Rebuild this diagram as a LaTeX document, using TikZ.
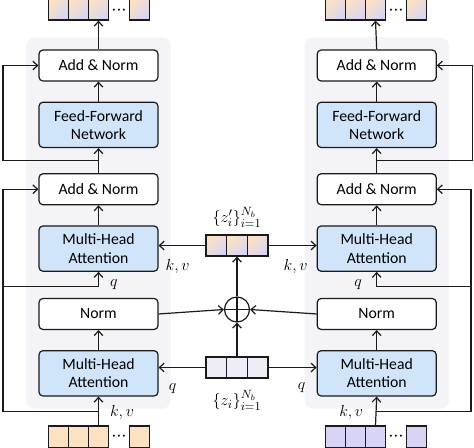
\documentclass[tikz,border=0pt]{standalone}
\usepackage{fontspec}
\setmainfont{Carlito}
\definecolor{panelGray}{HTML}{F3F3F8}
\definecolor{attnBlue}{HTML}{D0E5FA}
\definecolor{tokPeach}{HTML}{FCE2C3}
\definecolor{tokLav}{HTML}{D8D4F5}
\definecolor{tokGray}{HTML}{EDEDF5}
\definecolor{lineInk}{HTML}{1A1A1A}
\usetikzlibrary{arrows.meta, positioning, calc, fit, backgrounds}

\begin{document}
\begin{tikzpicture}[
    x=0.75pt, y=0.75pt,
    node distance=15pt and 118.5pt,
    blk/.style={
      rounded corners=3pt,
      draw=lineInk,
      fill=white,
      line width=0.9pt,
      minimum width=89.25pt,
      minimum height=23.25pt,
      align=center,
      font=\fontsize{11.8}{13.75}\selectfont,
      inner sep=2pt,
    },
    attn/.style={blk, fill=attnBlue, minimum height=34pt},
    panel/.style={fill=panelGray, rounded corners=6pt, inner sep=9pt},
    tok/.style={draw=lineInk, line width=0.9pt, minimum width=15pt, minimum height=16.5pt, inner sep=0pt},
    ztok/.style={tok, minimum width=15.5pt, minimum height=15.75pt},
    mixtok/.style={top color=tokPeach, bottom color=tokLav, shading angle=45},
    dots/.style={font=\boldmath, inner sep=0pt},
    fuse/.style={circle, draw=lineInk, line width=0.9pt, minimum size=18.75pt, inner sep=0pt,
      path picture={\draw[line width=0.9pt] (path picture bounding box.north) -- (path picture bounding box.south)
        (path picture bounding box.west) -- (path picture bounding box.east);}},
    lbl/.style={font=\fontsize{12.5}{13}\selectfont, inner sep=0pt},
    arr/.style={-{Straight Barb[length=3.5pt, width=6.5pt]}, draw=lineInk, line width=0.9pt},
  ]
    \useasboundingbox (0,0) rectangle (474,-447);

    \node[blk] (anL) at (98.5,-65.5) {Add \& Norm};
    \node[attn, below=of anL] (ffnL) {Feed-Forward\\Network};
    \node[blk, below=18.75pt of ffnL] (an2L) {Add \& Norm};
    \node[attn, below=of an2L] (mha1L) {Multi-Head\\Attention};
    \node[blk, below=19.5pt of mha1L] (normL) {Norm};
    \node[attn, below=of normL] (mha2L) {Multi-Head\\Attention};

    \node[blk, right=of anL] (anR) {Add \& Norm};
    \node[attn, right=of ffnL] (ffnR) {Feed-Forward\\Network};
    \node[blk, right=of an2L] (an2R) {Add \& Norm};
    \node[attn, right=of mha1L] (mha1R) {Multi-Head\\Attention};
    \node[blk, right=of normL] (normR) {Norm};
    \node[attn, right=of mha2L] (mha2R) {Multi-Head\\Attention};

    \begin{scope}[on background layer]
      \node[panel, fit=(anL)(mha2L)] (panL) {};
      \node[panel, fit=(anR)(mha2R)] (panR) {};
    \end{scope}

    \foreach \i/\x in {1/58.5, 2/78.5, 3/98.5, 4/139.5} {
      \node[tok, mixtok] (tL\i) at (\x,-9) {};
      \node[tok, fill=tokPeach] (bL\i) at (\x,-437) {};
    }
    \foreach \i/\x in {1/335.5, 2/355.5, 3/375.5, 4/416.5} {
      \node[tok, mixtok] (tR\i) at (\x,-9) {};
      \node[tok, fill=tokLav] (bR\i) at (\x,-437) {};
    }
    \node[dots] (dTL) at (119,-10) {$\cdot\!\cdot\!\cdot$};
    \node[dots] (dBL) at (119,-436) {$\cdot\!\cdot\!\cdot$};
    \node[dots] (dTR) at (396,-10) {$\cdot\!\cdot\!\cdot$};
    \node[dots] (dBR) at (396,-436) {$\cdot\!\cdot\!\cdot$};

    \foreach \i/\x in {1/216.3, 2/237, 3/257.7} {
      \node[ztok, mixtok] (zp\i) at (\x,-245.5) {};
      \node[ztok, fill=tokGray] (zc\i) at (\x,-367.5) {};
    }
    \node[fuse] (fuse) at (237,-309.5) {};

    \node[lbl] (zpLbl) at ([shift={(0,17)}]zp2.north) {$\{z_i'\}_{i=1}^{N_b}$};
    \node[lbl] (zcLbl) at ([shift={(0,-22)}]zc2.south) {$\{z_i\}_{i=1}^{N_b}$};

    % columns
    \draw[arr] (ffnL.north) -- (anL.south);
    \draw[arr] (an2L.north) -- (ffnL.south);
    \draw[arr] (mha1L.north) -- (an2L.south);
    \draw[arr] (mha2L.north) -- (normL.south);
    \draw[arr] (anL.north) -- (tL3.south);
    \draw[arr] (bL3.north) -- (mha2L.south);
    \draw[arr] (ffnR.north) -- (anR.south);
    \draw[arr] (an2R.north) -- (ffnR.south);
    \draw[arr] (mha1R.north) -- (an2R.south);
    \draw[arr] (mha2R.north) -- (normR.south);
    \draw[arr] (anR.north) -- (tR3.south);
    \draw[arr] (bR3.north) -- (mha2R.south);

    % residual rails
    \coordinate (skipL) at ($(ffnL.south)!0.5!(an2L.north)$);
    \coordinate (skipR) at ($(ffnR.south)!0.5!(an2R.north)$);
    \coordinate (inL) at ($(bL3.north)+(0,14)$);
    \coordinate (inR) at ($(bR3.north)+(0,14)$);
    \coordinate (qL) at ($(mha1L.south)+(-95.5,-15)$);
    \coordinate (qR) at ($(mha1R.south)+(95.5,-15)$);
    \draw[arr] (skipL) -- ++(-95.5,0) |- (anL.west);
    \draw[arr] (inL) -- ++(-95.5,0) |- (an2L.west);
    \draw[arr] (qL) -| (mha1L.south);
    \draw[arr] (skipR) -- ++(95.5,0) |- (anR.east);
    \draw[arr] (inR) -- ++(95.5,0) |- (an2R.east);
    \draw[arr] (qR) -| (mha1R.south);

    % cross links
    \draw[arr] (zp1.west) -- (zp1.west -| mha1L.east);
    \draw[arr] (zp3.east) -- (zp3.east -| mha1R.west);
    \draw[arr] (zc1.west) -- (zc1.west -| mha2L.east);
    \draw[arr] (zc3.east) -- (zc3.east -| mha2R.west);
    \draw[arr] (normL.east) -- (fuse.west);
    \draw[arr] (normR.west) -- (fuse.east);
    \draw[arr] (zc2.north) -- (fuse.south);
    \draw[arr] (fuse.north) -- (zp2.south);

    \node[lbl] (qL1) at ([shift={(15.5,-13)}]mha1L.south) {$q$};
    \node[lbl] (kvL1) at ([shift={(19,-17.5)}]mha1L.east) {$k,v$};
    \node[lbl] (kvR1) at ([shift={(-21,-17.5)}]mha1R.west) {$k,v$};
    \node[lbl] (qR1) at ([shift={(-18.5,-13)}]mha1R.south) {$q$};
    \node[lbl] (qL2) at ([shift={(14,-15.5)}]mha2L.east) {$q$};
    \node[lbl] (qR2) at ([shift={(-15,-14.5)}]mha2R.west) {$q$};
    \node[lbl] (kvL2) at ([shift={(23.5,-16)}]mha2L.south) {$k,v$};
    \node[lbl] (kvR2) at ([shift={(-25.5,-16)}]mha2R.south) {$k,v$};
  \end{tikzpicture}
\end{document}
